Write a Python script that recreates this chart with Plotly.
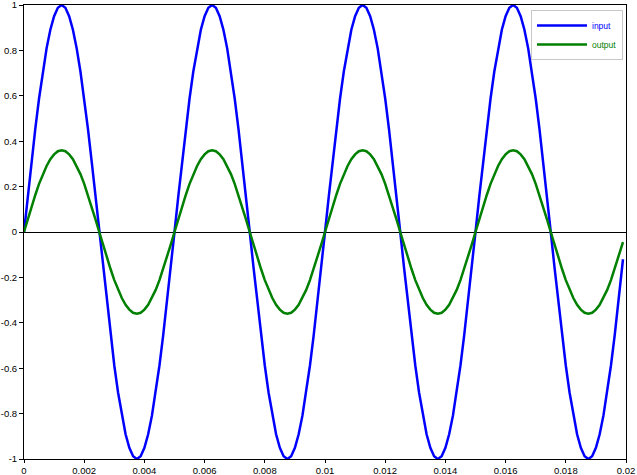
import plotly.graph_objects as go

# time samples (s), step 0.125 ms, plus final sample
time_s = [round(i * 0.000125, 6) for i in range(160)] + [0.0199]

cycle_in = [0, 0.156, 0.309, 0.454, 0.588, 0.707, 0.809, 0.891, 0.951, 0.988,
            1.0, 0.988, 0.951, 0.891, 0.809, 0.707, 0.588, 0.454, 0.309, 0.156,
            0, -0.156, -0.309, -0.454, -0.588, -0.707, -0.809, -0.891, -0.951, -0.988,
            -1.0, -0.988, -0.951, -0.891, -0.809, -0.707, -0.588, -0.454, -0.309, -0.156]
cycle_out = [0, 0.056, 0.111, 0.163, 0.212, 0.255, 0.291, 0.321, 0.342, 0.356,
             0.36, 0.356, 0.342, 0.321, 0.291, 0.255, 0.212, 0.163, 0.111, 0.056,
             0, -0.056, -0.111, -0.163, -0.212, -0.255, -0.291, -0.321, -0.342, -0.356,
             -0.36, -0.356, -0.342, -0.321, -0.291, -0.255, -0.212, -0.163, -0.111, -0.056]

input_vals = cycle_in * 4 + [-0.12]
output_vals = cycle_out * 4 + [-0.045]

x_ticks = [0, 0.002, 0.004, 0.006, 0.008, 0.01, 0.012, 0.014, 0.016, 0.018, 0.02]
x_labels = ["0", "0.002", "0.004", "0.006", "0.008", "0.01", "0.012", "0.014", "0.016", "0.018", "0.02"]
y_ticks = [-1, -0.8, -0.6, -0.4, -0.2, 0, 0.2, 0.4, 0.6, 0.8, 1]
y_labels = ["-1", "-0.8", "-0.6", "-0.4", "-0.2", "0", "0.2", "0.4", "0.6", "0.8", "1"]

fig = go.Figure()
fig.add_trace(go.Scatter(x=time_s, y=input_vals, mode="lines",
                         name="<span style='color:#0000FF'>input</span>",
                         line=dict(color="#0000FF", width=2.5)))
fig.add_trace(go.Scatter(x=time_s, y=output_vals, mode="lines",
                         name="<span style='color:#008000'>output</span>",
                         line=dict(color="#008000", width=2.5)))

axis_font = dict(family="Liberation Sans, Arial, sans-serif", size=9.5, color="#000000")
fig.update_layout(
    width=637, height=475,
    margin=dict(l=24, r=11, t=5, b=16, autoexpand=False),
    paper_bgcolor="white", plot_bgcolor="white",
    showlegend=True,
    legend=dict(x=0.995, y=0.989, xanchor="right", yanchor="top",
                bgcolor="white", bordercolor="#C8C8C8", borderwidth=1,
                font=dict(family="Liberation Sans, Arial, sans-serif", size=8.5, color="#0000FF"),
                itemwidth=50, tracegroupgap=0),
    xaxis=dict(range=[0, 0.02], tickvals=x_ticks, ticktext=x_labels, automargin=False,
               ticklabeloverflow="allow",
               showgrid=False, zeroline=False, showline=True, linecolor="black",
               linewidth=1, mirror=True, ticks="outside", ticklen=3, tickcolor="black",
               tickfont=axis_font),
    yaxis=dict(range=[-1, 1], tickvals=y_ticks, ticktext=y_labels, automargin=False,
               ticklabeloverflow="allow",
               showgrid=False, zeroline=True, zerolinecolor="black", zerolinewidth=1,
               showline=True, linecolor="black", linewidth=1, mirror=True,
               ticks="outside", ticklen=4, tickcolor="black", tickfont=axis_font),
)
fig.write_html("out.html", config={"displayModeBar": False},
               post_script="document.body.style.margin='0';document.body.style.overflow='hidden';")
